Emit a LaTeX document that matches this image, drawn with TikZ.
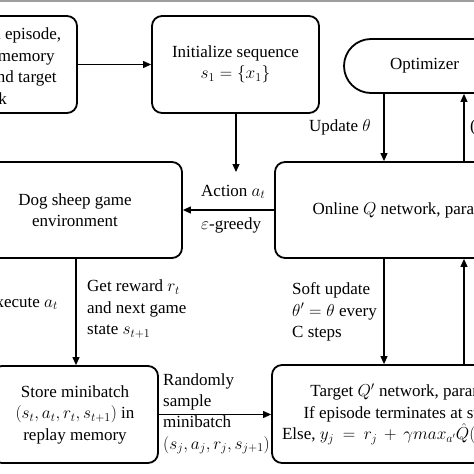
\documentclass[tikz,border=0pt]{standalone}
\usepackage{fontspec}
\setmainfont{Liberation Serif}
\usetikzlibrary{arrows.meta}
\begin{document}
\begin{tikzpicture}[x=1pt,y=-1pt,
  every node/.style={font=\fontsize{17}{21.5}\selectfont, inner sep=0pt},
  box/.style={draw=black, line width=1.8pt, rounded corners=10pt, fill=none},
  lbl/.style={align=left},
  arr/.style={draw=black, line width=1.1pt, -{Triangle[length=8pt,width=7pt]}},
  ln/.style={draw=black, line width=1.1pt}]
\useasboundingbox (0,0) rectangle (474,474);
\clip (0,0) rectangle (474,474);
\fill[white] (0,0) rectangle (474,474);
\fill[black!38] (0,0) rectangle (474,2.2);
% boxes
\node[box, minimum width=217pt, minimum height=97pt] (A) at (-31.5,64.5) {};
\node[lbl, anchor=west] (Atxt) at (-49,66) {In each episode,\\replay memory\\main and target\\network};
\node[box, minimum width=167pt, minimum height=97pt, align=center] (B) at (235.5,64.5) {Initialize sequence\\$s_1=\{x_1\}$};
\node[box, rounded corners=27pt, minimum width=161pt, minimum height=54pt] (opt) at (424.5,66) {Optimizer};
\node[box, minimum width=288pt, minimum height=96pt] (onl) at (419,210) {Online $Q$ network, parameter $\theta$};
\node[box, minimum width=214pt, minimum height=96pt, align=center] (env) at (75,210) {Dog sheep game\\environment};
\node[box, minimum width=166pt, minimum height=97pt, align=center] (sto) at (75,414.5) {Store minibatch\\$(s_t,a_t,r_t,s_{t+1})$ in\\replay memory};
\node[box, minimum width=294pt, minimum height=98pt, align=center] (tgt) at (419,414) {Target $Q'$ network, parameter $\theta'$\\If episode terminates at step $j+1$\\\thickmuskip=9mu\medmuskip=7mu Else, $y_j=r_j+\gamma max_{a'}\hat{Q}(s_{j+1},\,a';\,\theta')$};
% helper coordinates
\coordinate (xa) at (236,0);
\coordinate (tipA) at (236,172);
\coordinate (xu) at (384,0);
\coordinate (xr) at (464,0);
\coordinate (xe) at (76,0);
% connectors
\draw[arr] (A.east |- B.west) -- (B.west);
\draw[arr] (B.south -| xa) -- (tipA);
\draw[arr] (opt.south -| xu) -- (onl.north -| xu);
\draw[arr] (onl.north -| xr) -- (opt.south -| xr);
\draw[arr] (onl.west) -- (env.east);
\draw[arr] (env.south -| xe) -- (sto.north -| xe);
\draw[arr] (onl.south -| xu) -- (tgt.north -| xu);
\draw[arr] (tgt.north -| xr) -- (onl.south -| xr);
\draw[arr] (sto.east) -- (sto.east -| tgt.west);
% labels
\node[anchor=east] (lupd) at (371,127) {Update $\theta$};
\node[anchor=west] (lcut) at (470,127) {(};
\node[anchor=west] (lact) at (201,192) {Action $a_t$};
\node[anchor=west] (leps) at (201,225) {$\varepsilon$-greedy};
\node[anchor=east] (lexe) at (58,303) {Execute $a_t$};
\node[lbl, anchor=west] (lrew) at (87,309) {Get reward $r_t$\\and next game\\state $s_{t+1}$};
\node[lbl, anchor=west] (lsoft) at (292,312) {Soft update\\$\theta'=\theta$ every\\C steps};
\node[lbl, anchor=west] (lrnd) at (163,392) {Randomly\\sample};
\node[lbl, anchor=west] (lmb) at (163,435) {minibatch\\$(s_j,a_j,r_j,s_{j+1})$};
\end{tikzpicture}
\end{document}
